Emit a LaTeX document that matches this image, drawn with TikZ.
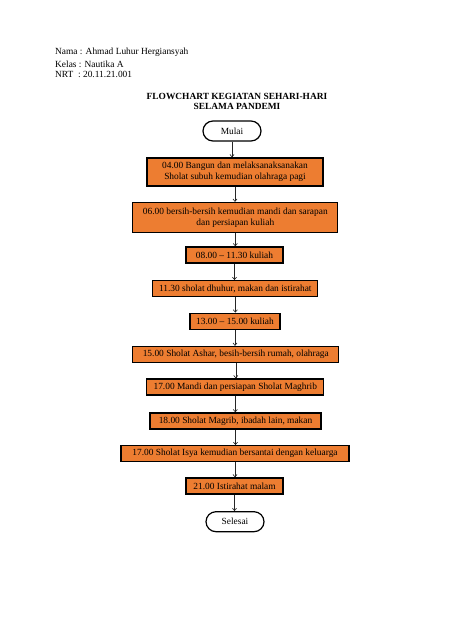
\documentclass[tikz,border=0pt]{standalone}
\usepackage{fontspec}
\setmainfont{Liberation Serif}
\usetikzlibrary{arrows.meta,shapes.misc,backgrounds}
\definecolor{boxorange}{HTML}{ED7D31}
\begin{document}
\begin{tikzpicture}[x=1pt,y=-1pt,
  every node/.style={font=\fontsize{9.4}{11}\selectfont, inner sep=0pt},
  stepbox/.style={draw=black, line width=1.3pt, fill=boxorange, align=center, minimum height=16pt},
  term/.style={draw=black, line width=1.2pt, rounded rectangle, fill=white, minimum width=58pt, minimum height=20pt},
  conn/.style={draw=black!85, line width=0.6pt, -{Straight Barb[length=2.5pt,width=4.2pt]}},
  hdr/.style={anchor=west}]
\useasboundingbox (0,0) rectangle (474,632);
\node[hdr] (nama) at (55,52.5) {Nama : Ahmad Luhur Hergiansyah};
\node[hdr] (kelas) at (55,64) {Kelas : Nautika A};
\node[hdr] (nrt) at (55,74.5) {NRT\ \ : 20.11.21.001};
\node[font=\fontsize{9.4}{10}\selectfont\bfseries, align=center] (title) at (237,101.5) {FLOWCHART KEGIATAN SEHARI-HARI\\SELAMA PANDEMI};
\node[term] (mulai) at (232,131) {Mulai};
\node[stepbox, minimum width=176pt, minimum height=28pt] (b1) at (235,172) {04.00 Bangun dan melaksanaksanakan\\Sholat subuh kemudian olahraga pagi};
\node[stepbox, minimum width=205pt, minimum height=30pt] (b2) at (235.3,217.5) {06.00 bersih-bersih kemudian mandi dan sarapan\\dan persiapan kuliah};
\node[stepbox, minimum width=97pt] (b3) at (234.5,255) {08.00 -- 11.30 kuliah};
\node[stepbox, minimum width=165pt] (b4) at (235.3,288.7) {11.30 sholat dhuhur, makan dan istirahat};
\node[stepbox, minimum width=90pt] (b5) at (235,321.3) {13.00 -- 15.00 kuliah};
\node[stepbox, minimum width=206pt] (b6) at (235.8,354.5) {15.00 Sholat Ashar, besih-bersih rumah, olahraga};
\node[stepbox, minimum width=177pt] (b7) at (235.3,387) {17.00 Mandi dan persiapan Sholat Maghrib};
\node[stepbox, minimum width=171pt] (b8) at (235.5,421) {18.00 Sholat Magrib, ibadah lain, makan};
\node[stepbox, minimum width=228pt] (b9) at (235,453.7) {17.00 Sholat Isya kemudian bersantai dengan keluarga};
\node[stepbox, minimum width=97pt] (b10) at (234.5,486) {21.00 Istirahat malam};
\node[term] (selesai) at (235,521.7) {Selesai};
\begin{scope}[on background layer]
\draw[conn] (mulai.south) -- (mulai.south |- b1.north);
\draw[conn] (b1.south) -- (b1.south |- b2.north);
\draw[conn] (b2.south) -- (b2.south |- b3.north);
\draw[conn] (b3.south) -- (b3.south |- b4.north);
\draw[conn] (b4.south) -- (b4.south |- b5.north);
\draw[conn] (b5.south) -- (b5.south |- b6.north);
\draw[conn] (b6.south) -- (b6.south |- b7.north);
\draw[conn] (b7.south) -- (b7.south |- b8.north);
\draw[conn] (b8.south) -- (b8.south |- b9.north);
\draw[conn] (b9.south) -- (b9.south |- b10.north);
\draw[conn] (b10.south) -- (b10.south |- selesai.north);
\end{scope}
\end{tikzpicture}
\end{document}
